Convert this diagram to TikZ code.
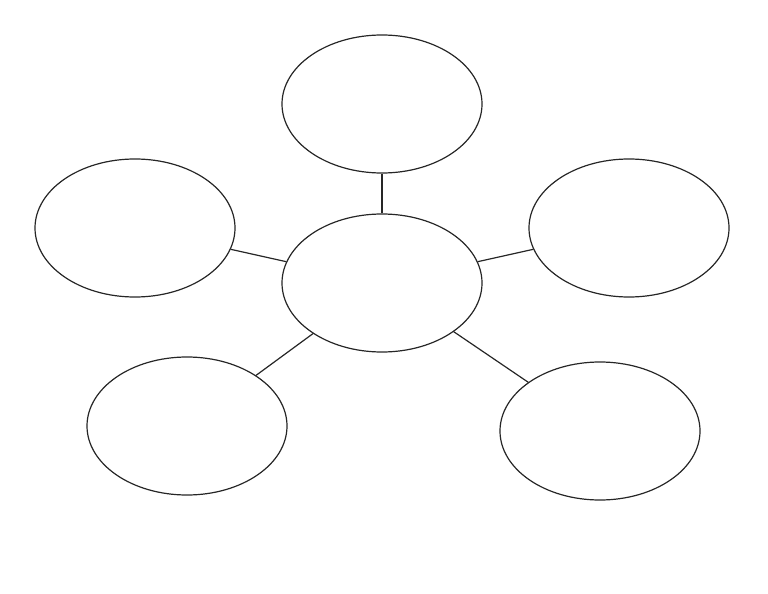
\documentclass[tikz,border=0pt]{standalone}
\usetikzlibrary{shapes.geometric}
\begin{document}
\begin{tikzpicture}[x=1pt,y=-1pt,
  bubble/.style={draw=black!85,line width=1.2pt,ellipse,minimum width=200pt,minimum height=138pt,inner sep=0pt},
  link/.style={draw=black!85,line width=1.2pt}]
\useasboundingbox (0,0) rectangle (768,594);
\node[bubble] (c) at (382,283) {};
\node[bubble] (t) at (382,104) {};
\node[bubble] (l) at (135,228) {};
\node[bubble] (r) at (629,228) {};
\node[bubble] (bl) at (187,426) {};
\node[bubble] (br) at (600,431) {};
\draw[link] (c) -- (t);
\draw[link] (c) -- (l);
\draw[link] (c) -- (r);
\draw[link] (c) -- (bl);
\draw[link] (c) -- (br);
\end{tikzpicture}
\end{document}
